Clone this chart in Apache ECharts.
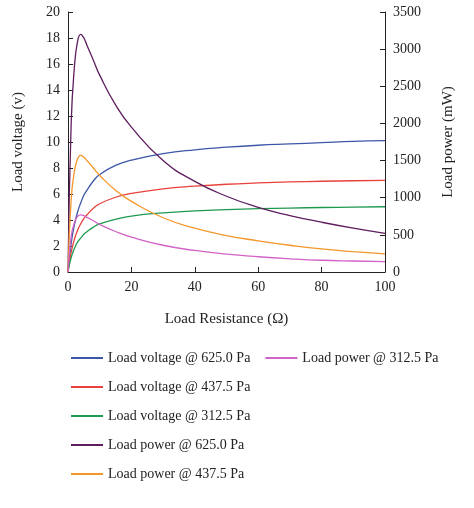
<!DOCTYPE html>
<html><head><meta charset="utf-8">
<script src="https://cdn.jsdelivr.net/npm/echarts@6/dist/echarts.min.js"></script>
<style>html,body{margin:0;padding:0;background:#fff}#c{width:474px;height:508px}</style>
</head><body><div id="c"></div>
<script>
const R = [0,1,2,3,4,5,6,8,10,15,20,30,40,50,60,70,80,90,100];
const v625 = [0,2.2,3.6,4.6,5.3,5.9,6.3,7.0,7.5,8.2,8.6,9.1,9.4,9.6,9.75,9.85,9.95,10.05,10.1];
const v437 = [0,1.5,2.5,3.2,3.7,4.1,4.4,4.9,5.25,5.75,6.05,6.4,6.6,6.75,6.85,6.93,6.98,7.02,7.05];
const v312 = [0,1.1,1.8,2.3,2.6,2.9,3.1,3.45,3.7,4.05,4.3,4.55,4.7,4.8,4.87,4.92,4.96,4.99,5.02];
const p625 = [0,2000,2750,3100,3200,3150,3050,2850,2650,2250,1950,1500,1220,1020,870,760,670,590,520];
const p437 = [0,980,1350,1520,1570,1545,1500,1400,1300,1100,950,730,590,490,420,360,310,275,245];
const p312 = [0,480,660,750,770,760,735,690,640,545,470,360,290,240,205,178,158,148,140];
const names = ['Load voltage @ 625.0 Pa','Load voltage @ 437.5 Pa','Load voltage @ 312.5 Pa','Load power @ 625.0 Pa','Load power @ 437.5 Pa','Load power @ 312.5 Pa'];
const colors = ['#3d57a8','#e8423c','#1d9a50','#5e1d5e','#f4972a','#d263c6'];
const data = [v625,v437,v312,p625,p437,p312];
const F = 'Liberation Serif';
const ch = echarts.init(document.getElementById('c'));
ch.setOption({
  animation:false,
  color:colors,
  textStyle:{fontFamily:F},
  grid:{left:68,right:89,top:12,bottom:236},
  legend:{orient:'vertical',left:66,top:346,itemGap:15,itemWidth:32,itemHeight:2,icon:'rect',
    textStyle:{fontFamily:F,fontSize:14,color:'#222'},data:names},
  xAxis:{type:'value',min:0,max:100,interval:20,name:'Load Resistance (Ω)',nameLocation:'middle',nameGap:40,
    nameTextStyle:{fontFamily:F,fontSize:15,color:'#222'},
    axisLine:{lineStyle:{color:'#222'}},axisTick:{inside:true,lineStyle:{color:'#222'}},
    axisLabel:{fontFamily:F,fontSize:14,color:'#222'},splitLine:{show:false}},
  yAxis:[{type:'value',min:0,max:20,interval:2,name:'Load voltage (v)',nameLocation:'middle',nameGap:42,
    nameTextStyle:{fontFamily:F,fontSize:15,color:'#222'},
    axisLine:{show:true,lineStyle:{color:'#222'}},axisTick:{show:true,inside:true,lineStyle:{color:'#222'}},
    axisLabel:{fontFamily:F,fontSize:14,color:'#222'},splitLine:{show:false}},
   {type:'value',min:0,max:3500,interval:500,name:'Load power (mW)',nameLocation:'middle',nameGap:56,nameRotate:90,
    nameTextStyle:{fontFamily:F,fontSize:15,color:'#222'},position:'right',
    axisLine:{show:true,lineStyle:{color:'#222'}},axisTick:{show:true,inside:true,lineStyle:{color:'#222'}},
    axisLabel:{fontFamily:F,fontSize:14,color:'#222',formatter:v=>String(v)},splitLine:{show:false}}],
  series:data.map((d,i)=>({name:names[i],type:'line',yAxisIndex:i<3?0:1,smooth:true,showSymbol:false,
    lineStyle:{width:1.3},data:R.map((r,j)=>[r,d[j]])}))
});
</script></body></html>
